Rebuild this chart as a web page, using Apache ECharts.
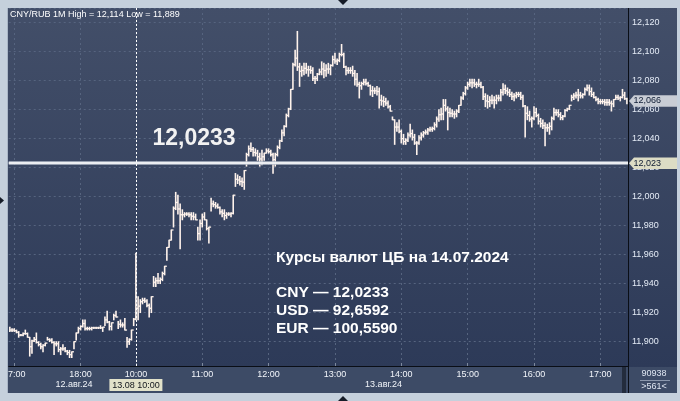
<!DOCTYPE html>
<html><head><meta charset="utf-8">
<script src="https://cdn.jsdelivr.net/npm/echarts@6/dist/echarts.min.js"></script>
<style>html,body{margin:0;padding:0;background:#c5d0dc}#c{width:680px;height:401px}</style>
</head><body><div id="c"></div>
<script>
// ---- data ----
const sessions = [
  {day: '12.авг.24', from: '16:56', to: '18:48'},
  {day: '13.авг.24', from: '10:00', to: '17:24'}
];
const stepMinutes = 2;
const aug12Low = [
11.907,11.907,11.907,11.906,11.903,11.904,11.904,11.905,11.903,11.890,
11.892,11.900,11.899,11.897,11.895,11.893,11.897,11.901,11.900,11.899,
11.891,11.897,11.893,11.891,11.894,11.893,11.891,11.889,11.889,11.895,
11.901,11.906,11.908,11.910,11.908,11.908,11.908,11.908,11.909,11.909,
11.909,11.909,11.907,11.911,11.913,11.908,11.908,11.915,11.917,11.909,
11.910,11.910,11.908,11.896,11.898,11.901,11.911];
const aug12High = [
11.910,11.909,11.909,11.908,11.907,11.905,11.906,11.908,11.906,11.903,
11.901,11.903,11.906,11.900,11.899,11.898,11.899,11.903,11.902,11.902,
11.900,11.900,11.900,11.896,11.898,11.896,11.894,11.894,11.893,11.900,
11.906,11.910,11.911,11.915,11.915,11.910,11.910,11.910,11.910,11.910,
11.910,11.911,11.910,11.917,11.921,11.914,11.913,11.919,11.921,11.914,
11.915,11.913,11.916,11.903,11.902,11.908,11.916];
const aug13Low = [
11.915,11.915,11.920,11.926,11.927,11.924,11.917,11.920,11.938,11.938,
11.940,11.940,11.942,11.946,11.956,11.965,11.970,11.979,11.991,11.988,
11.964,11.984,11.986,11.987,11.986,11.984,11.984,11.984,11.970,11.970,
11.979,11.984,11.977,11.968,11.990,11.993,11.992,11.992,11.988,11.986,
11.984,11.985,11.987,11.986,11.988,12.007,12.009,12.008,12.007,12.005,
12.021,12.028,12.031,12.028,12.028,12.025,12.021,12.022,12.025,12.030,
12.030,12.028,12.016,12.021,12.028,12.033,12.038,12.042,12.048,12.055,
12.060,12.074,12.090,12.087,12.076,12.083,12.084,12.085,12.083,12.085,
12.080,12.078,12.080,12.084,12.084,12.082,12.083,12.085,12.084,12.090,
12.092,12.091,12.093,12.097,12.089,12.084,12.085,12.085,12.083,12.077,
12.076,12.068,12.074,12.077,12.077,12.076,12.070,12.069,12.071,12.070,
12.061,12.063,12.062,12.063,12.061,12.059,12.053,12.036,12.045,12.044,
12.037,12.036,12.036,12.038,12.041,12.039,12.036,12.029,12.036,12.039,
12.041,12.043,12.043,12.045,12.045,12.046,12.048,12.052,12.053,12.053,
12.059,12.046,12.055,12.055,12.054,12.055,12.058,12.063,12.067,12.070,
12.074,12.076,12.075,12.076,12.075,12.076,12.075,12.067,12.062,12.061,
12.062,12.064,12.061,12.064,12.066,12.066,12.070,12.071,12.070,12.069,
12.067,12.066,12.068,12.069,12.067,12.062,12.041,12.053,12.052,12.048,
12.053,12.055,12.050,12.048,12.047,12.035,12.045,12.043,12.046,12.053,
12.056,12.055,12.053,12.053,12.055,12.059,12.060,12.066,12.067,12.068,
12.066,12.068,12.068,12.070,12.073,12.070,12.069,12.068,12.066,12.064,
12.064,12.064,12.063,12.063,12.063,12.059,12.062,12.067,12.067,12.066,
12.068,12.067,12.064];
const aug13High = [
11.961,11.931,11.929,11.930,11.930,11.929,11.926,11.931,11.945,11.944,
11.947,11.944,11.948,11.952,11.965,11.970,11.977,11.993,12.003,12.001,
11.995,11.991,11.989,11.989,11.989,11.989,11.989,11.988,11.979,11.984,
11.988,11.989,11.984,11.979,11.999,11.997,11.996,11.995,11.993,11.991,
11.991,11.989,11.989,11.989,12.001,12.016,12.015,12.014,12.013,12.018,
12.030,12.035,12.037,12.034,12.033,12.032,12.030,12.032,12.030,12.033,
12.033,12.032,12.030,12.030,12.035,12.039,12.046,12.049,12.057,12.061,
12.074,12.092,12.101,12.114,12.092,12.090,12.092,12.092,12.090,12.090,
12.089,12.083,12.085,12.088,12.093,12.092,12.091,12.092,12.091,12.097,
12.099,12.095,12.099,12.105,12.099,12.090,12.089,12.089,12.090,12.087,
12.085,12.079,12.079,12.081,12.081,12.079,12.077,12.076,12.075,12.076,
12.075,12.070,12.069,12.068,12.066,12.063,12.055,12.053,12.051,12.053,
12.046,12.043,12.040,12.044,12.050,12.046,12.043,12.038,12.042,12.044,
12.045,12.046,12.047,12.048,12.048,12.051,12.055,12.060,12.061,12.067,
12.067,12.062,12.061,12.060,12.059,12.060,12.063,12.069,12.072,12.076,
12.079,12.081,12.081,12.081,12.079,12.081,12.079,12.076,12.071,12.070,
12.069,12.070,12.069,12.070,12.070,12.074,12.078,12.077,12.075,12.074,
12.072,12.071,12.072,12.072,12.072,12.070,12.063,12.062,12.059,12.055,
12.062,12.061,12.057,12.054,12.053,12.051,12.050,12.051,12.055,12.061,
12.060,12.060,12.058,12.056,12.060,12.061,12.063,12.070,12.071,12.072,
12.074,12.072,12.071,12.075,12.077,12.077,12.075,12.072,12.069,12.068,
12.067,12.067,12.067,12.067,12.067,12.066,12.067,12.070,12.070,12.069,
12.074,12.072,12.068];
const cbRate = 12.0233;
const lastPrice = 12.066;
const headerText = 'CNY/RUB 1M High = 12,114 Low = 11,889';
const infoTitle = 'Курсы валют ЦБ на 14.07.2024';
const infoLines = ['CNY — 12,0233', 'USD — 92,6592', 'EUR — 100,5590'];
const cursorTime = '10:00';
const cursorLabel = '13.08 10:00';
const volumeText = '90938';
const barsText = '>561<';

// ---- build ----
const pad = n => (n < 10 ? '0' : '') + n;
const times = [], dayOf = [], dayRange = [];
sessions.forEach((s, si) => {
  const [h, m] = s.from.split(':').map(Number);
  const [eh, em] = s.to.split(':').map(Number);
  const first = times.length;
  for (let t = h * 60 + m; t <= eh * 60 + em; t += stepMinutes) {
    times.push(pad(Math.floor(t / 60)) + ':' + pad(t % 60));
    dayOf.push(si);
  }
  dayRange.push([first, times.length - 1]);
});
const lows = aug12Low.concat(aug13Low);
const highs = aug12High.concat(aug13High);
const bars = lows.map((lo, i) => [i, lo, highs[i]]);
const dayLabelIdx = dayRange.map(r => Math.round((r[0] + r[1]) / 2) + 1);
const cursorIdx = times.indexOf(cursorTime);
const isHour = (idx, val) => String(val).slice(3) === '00';
const fmt3 = v => v.toFixed(3).replace('.', ',');
const FONT = "'Liberation Sans', Arial, sans-serif";
const gridColor = '#56647f';
const inkColor = '#fff3ec';

const chart = echarts.init(document.getElementById('c'), null, {renderer: 'canvas'});
const option = {
  animation: false,
  backgroundColor: new echarts.graphic.LinearGradient(0, 0, 0, 1, [
    {offset: 0, color: '#434f69'}, {offset: 0.92, color: '#2d3a58'}, {offset: 1, color: '#2c3957'}
  ]),
  grid: {left: 8, right: 52, top: 8, bottom: 35, containLabel: false},
  xAxis: [{
    type: 'category', data: times, boundaryGap: true,
    axisLine: {show: true, lineStyle: {color: '#0a0e16', width: 1}},
    axisTick: {show: true, inside: true, length: 3, alignWithLabel: true, interval: isHour,
      lineStyle: {color: '#7d899e'}},
    axisLabel: {interval: isHour, color: '#f2f5fa', fontSize: 9, fontFamily: FONT, margin: 4},
    splitLine: {show: true, interval: isHour, alignWithLabel: true,
      lineStyle: {color: gridColor, type: [2, 3], width: 1}}
  }, {
    type: 'category', data: times, boundaryGap: true, position: 'bottom',
    axisLine: {show: false}, axisTick: {show: false}, splitLine: {show: false},
    axisLabel: {interval: idx => dayLabelIdx.indexOf(idx) >= 0,
      formatter: (v, idx) => sessions[dayOf[idx]].day,
      color: '#f2f5fa', fontSize: 9, fontFamily: FONT, margin: 14}
  }],
  yAxis: {
    type: 'value', position: 'right', min: 11.8832, max: 12.1301, splitNumber: 12,
    axisLine: {show: true, lineStyle: {color: '#0a0e16', width: 1}},
    axisTick: {show: false},
    axisLabel: {color: '#e4ebf6', fontSize: 9, fontFamily: FONT, margin: 4,
      showMinLabel: false, showMaxLabel: false, formatter: fmt3},
    splitLine: {show: true, lineStyle: {color: gridColor, type: [2, 3], width: 1}}
  },
  series: [{
    type: 'custom', silent: true, clip: true,
    data: bars, encode: {x: 0, y: [1, 2]},
    renderItem(params, api) {
      const i = api.value(0), lo = api.value(1), hi = api.value(2);
      const top = api.coord([i, hi]);
      const bot = api.coord([i, lo]);
      const children = [{type: 'rect',
        shape: {x: top[0] - 0.8, y: top[1] - 0.4, width: 1.6, height: Math.max(bot[1] - top[1], 0.6) + 0.8},
        style: {fill: inkColor}}];
      if (i + 1 < bars.length) {
        const nLo = bars[i + 1][1], nHi = bars[i + 1][2];
        // connect to next bar at the level where both ranges meet
        const a = Math.max(lo, nLo), b = Math.min(hi, nHi);
        const v = a <= b ? (a + b) / 2 : (nLo > hi ? hi : lo);
        const p = api.coord([i, v]);
        const q = api.coord([i + 1, v]);
        children.push({type: 'line', shape: {x1: p[0], y1: p[1], x2: q[0], y2: q[1]},
          style: {stroke: inkColor, lineWidth: 1.3}});
      }
      return {type: 'group', children: children};
    }
  }, {
    type: 'line', data: [], silent: true,
    markLine: {
      symbol: 'none', silent: true, animation: false, precision: 4, label: {show: false},
      data: [
        {yAxis: cbRate, lineStyle: {color: '#b4bcca', width: 3.5, type: 'solid'}},
        {yAxis: cbRate, lineStyle: {color: '#ffffff', width: 1.6, type: 'solid'}},
        {xAxis: cursorIdx, lineStyle: {color: '#ffffff', width: 1, type: [2, 2]}}
      ]
    }
  }]
};
chart.setOption(option);

// ---- overlays ----
const yPix = v => chart.convertToPixel({yAxisIndex: 0}, v);
const cx = chart.convertToPixel({xAxisIndex: 0}, cursorIdx);
const frame = '#c5d0dc';
const tag = (v, fill) => [{
  type: 'polygon', z: 50, shape: {points: [[629, yPix(v)], [634, yPix(v) - 5.7], [677, yPix(v) - 5.7], [677, yPix(v) + 5.7], [634, yPix(v) + 5.7]]},
  style: {fill: fill}
}, {
  type: 'text', z: 51, x: 633.5, y: yPix(v),
  style: {text: fmt3(v), fill: '#0d1a33', font: '9px ' + FONT, verticalAlign: 'middle', align: 'left'}
}];
const g = [
  {type: 'rect', z: -1, shape: {x: 8, y: 367, width: 669, height: 26}, style: {fill: '#3d4b66'}},
  {type: 'rect', z: 40, shape: {x: 622, y: 367, width: 4, height: 26}, style: {fill: '#232c3d'}},
  {type: 'line', z: 40, shape: {x1: 628.5, y1: 366, x2: 628.5, y2: 393}, style: {stroke: '#0a0e16', lineWidth: 1}},
  {type: 'line', z: 40, shape: {x1: 640, y1: 380.5, x2: 670, y2: 380.5}, style: {stroke: '#8c98ad', lineWidth: 1}},
  {type: 'text', z: 40, x: 654, y: 373.5, style: {text: volumeText, fill: '#dfe6f1', font: '9px ' + FONT, align: 'center', verticalAlign: 'middle'}},
  {type: 'text', z: 40, x: 654, y: 386.5, style: {text: barsText, fill: '#dfe6f1', font: '9px ' + FONT, align: 'center', verticalAlign: 'middle'}},
  {type: 'rect', z: 50, shape: {x: cx - 26.5, y: 379, width: 53, height: 12}, style: {fill: '#e2e2ca'}},
  {type: 'text', z: 51, x: cx, y: 385.3, style: {text: cursorLabel, fill: '#11151c', font: '9px ' + FONT, align: 'center', verticalAlign: 'middle'}},
  {type: 'text', z: 60, x: 10, y: 15, style: {text: headerText, fill: '#ffffff', font: '9px ' + FONT, verticalAlign: 'middle'}},
  {type: 'text', z: 60, x: 152.5, y: 138.5, style: {text: cbRate.toFixed(4).replace('.', ','), fill: '#f2f2f2', font: 'bold 23px ' + FONT, verticalAlign: 'middle'}},
  {type: 'text', z: 60, x: 276, y: 258, style: {text: infoTitle, fill: '#ffffff', font: 'bold 15.5px ' + FONT, verticalAlign: 'middle'}}
].concat(infoLines.map((t, k) => ({type: 'text', z: 60, x: 276, y: 293 + k * 17.7,
  style: {text: t, fill: '#ffffff', font: 'bold 15.5px ' + FONT, verticalAlign: 'middle'}})))
 .concat(tag(lastPrice, '#c9cdd5'), tag(Number(cbRate.toFixed(3)), '#dcdcc5'))
 .concat([
  {type: 'rect', z: 100, shape: {x: 0, y: 0, width: 8, height: 401}, style: {fill: frame}},
  {type: 'rect', z: 100, shape: {x: 0, y: 0, width: 680, height: 8}, style: {fill: frame}},
  {type: 'rect', z: 100, shape: {x: 0, y: 393, width: 680, height: 8}, style: {fill: frame}},
  {type: 'rect', z: 100, shape: {x: 677, y: 0, width: 3, height: 401}, style: {fill: frame}},
  {type: 'line', z: 101, shape: {x1: 7.5, y1: 8, x2: 7.5, y2: 393}, style: {stroke: '#aab6c6', lineWidth: 1}},
  {type: 'polygon', z: 110, shape: {points: [[338, 0], [348, 0], [343, 5]]}, style: {fill: '#161c28'}},
  {type: 'polygon', z: 110, shape: {points: [[338, 401], [348, 401], [343, 396]]}, style: {fill: '#161c28'}},
  {type: 'polygon', z: 110, shape: {points: [[0, 197], [0, 204], [4, 200.5]]}, style: {fill: '#161c28'}}
 ]);
chart.setOption({graphic: {elements: g}});
</script>
</body></html>
